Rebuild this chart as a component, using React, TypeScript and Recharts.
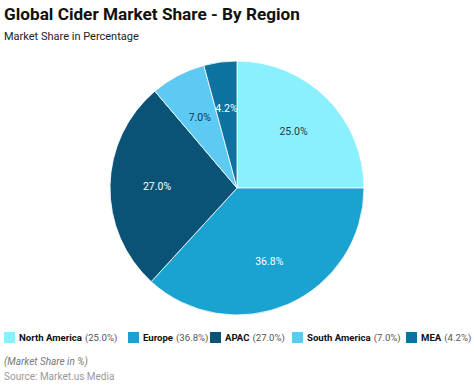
import React from "react";
import { PieChart, Pie, Cell } from "recharts";

const regions = ["North America", "Europe", "APAC", "South America", "MEA"];
const shares = [25.0, 36.8, 27.0, 7.0, 4.2];

const COLORS = ["#8BF0FD", "#1AA2D0", "#0B5277", "#5DCAF4", "#0C72A0"];
const LABEL_COLORS = ["#1d3b4b", "#ffffff", "#ffffff", "#12384f", "#ffffff"];
const LEGEND_X = [4, 128, 210, 292, 406];

const data = regions.map((name, i) => ({ name, value: shares[i] }));

const RAD = Math.PI / 180;

const renderLabel = (props: any) => {
  const { cx, cy, midAngle, outerRadius, index, value } = props;
  const r = outerRadius * 0.63;
  const x = cx + r * Math.cos(-midAngle * RAD);
  const y = cy + r * Math.sin(-midAngle * RAD);
  return (
    <text
      x={x}
      y={y}
      fill={LABEL_COLORS[index]}
      textAnchor="middle"
      dominantBaseline="central"
      fontSize={10.5}
      fontFamily="Roboto, sans-serif"
    >
      {value.toFixed(1)}%
    </text>
  );
};

export default function App() {
  return (
    <div
      style={{
        position: "absolute",
        left: 0,
        top: 0,
        width: 474,
        height: 386,
        background: "#fff",
        fontFamily: "Roboto, sans-serif",
        overflow: "hidden",
      }}
    >
      <div
        style={{
          position: "absolute",
          left: 4,
          top: 3,
          fontSize: 17.2,
          fontWeight: 700,
          color: "#111",
          whiteSpace: "nowrap",
          lineHeight: "22px",
        }}
      >
        Global Cider Market Share - By Region
      </div>
      <div
        style={{
          position: "absolute",
          left: 4,
          top: 30,
          fontSize: 11,
          color: "#222",
          lineHeight: "14px",
        }}
      >
        Market Share in Percentage
      </div>
      <div style={{ position: "absolute", left: 0, top: 0 }}>
        <PieChart
          width={474}
          height={330}
          margin={{ top: 0, right: 0, bottom: 0, left: 0 }}
        >
          <Pie
            data={data}
            dataKey="value"
            nameKey="name"
            cx={237}
            cy={188}
            outerRadius={127}
            startAngle={90}
            endAngle={-270}
            stroke="#ffffff"
            strokeWidth={0.8}
            label={renderLabel}
            labelLine={false}
            isAnimationActive={false}
          >
            {data.map((d, i) => (
              <Cell key={d.name} fill={COLORS[i]} />
            ))}
          </Pie>
        </PieChart>
      </div>
      {data.map((d, i) => (
        <div
          key={d.name}
          style={{
            position: "absolute",
            left: LEGEND_X[i],
            top: 330,
            height: 14,
            display: "flex",
            alignItems: "center",
            fontSize: 9.6,
            whiteSpace: "nowrap",
          }}
        >
          <span
            style={{
              display: "inline-block",
              width: 11,
              height: 11,
              background: COLORS[i],
              marginRight: 4,
            }}
          />
          <span style={{ fontWeight: 700, color: "#111" }}>{d.name}</span>
          <span style={{ marginLeft: 3, color: "#555" }}>
            ({d.value.toFixed(1)}%)
          </span>
        </div>
      ))}
      <div
        style={{
          position: "absolute",
          left: 4,
          top: 355,
          fontSize: 10,
          fontStyle: "italic",
          color: "#777",
          lineHeight: "13px",
        }}
      >
        (Market Share in %)
      </div>
      <div
        style={{
          position: "absolute",
          left: 4,
          top: 370,
          fontSize: 10,
          color: "#999",
          lineHeight: "13px",
        }}
      >
        Source: Market.us Media
      </div>
    </div>
  );
}
